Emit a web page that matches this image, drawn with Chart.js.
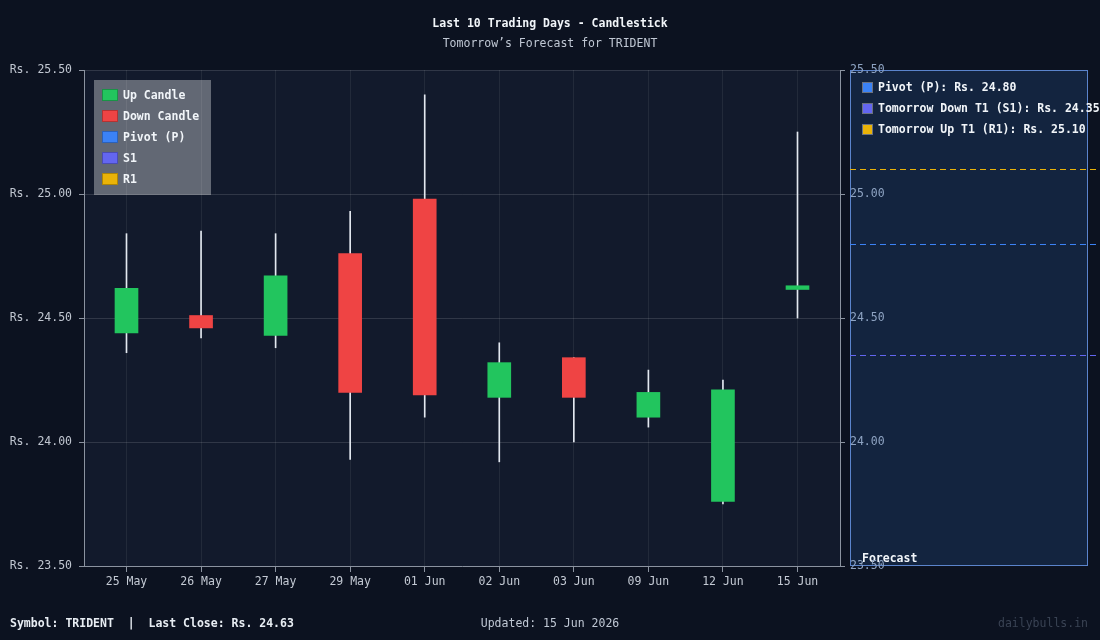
<!DOCTYPE html>
<html>
<head>
<meta charset="utf-8">
<title>TRIDENT - Candlestick</title>
<script src="https://cdn.jsdelivr.net/npm/chart.js@4.4.1/dist/chart.umd.min.js"></script>
<style>
  html, body { margin: 0; padding: 0; background: #0c1220; }
  #wrap { width: 1100px; height: 640px; }
</style>
</head>
<body>
<div id="wrap"><canvas id="candleChart" width="1100" height="640"></canvas></div>
<script>
// last 10 sessions
const dates = ["25 May", "26 May", "27 May", "29 May", "01 Jun", "02 Jun", "03 Jun", "09 Jun", "12 Jun", "15 Jun"];
const opens = [24.44, 24.51, 24.43, 24.76, 24.98, 24.18, 24.34, 24.10, 23.76, 24.615];
const highs = [24.84, 24.85, 24.84, 24.93, 25.40, 24.40, 24.34, 24.29, 24.25, 25.25];
const lows = [24.36, 24.42, 24.38, 23.93, 24.10, 23.92, 24.00, 24.06, 23.75, 24.50];
const closes = [24.62, 24.46, 24.67, 24.20, 24.19, 24.32, 24.18, 24.20, 24.21, 24.63];

const priceTicks = [23.5, 24.0, 24.5, 25.0, 25.5];

// tomorrow's levels
const levelNames = ["Pivot (P)", "Tomorrow Down T1 (S1)", "Tomorrow Up T1 (R1)"];
const levelValues = [24.80, 24.35, 25.10];
const levelColors = ["#3b82f6", "#6366f1", "#eab308"];

const legendNames = ["Up Candle", "Down Candle", "Pivot (P)", "S1", "R1"];
const legendColors = ["#22c55e", "#ef4444", "#3b82f6", "#6366f1", "#eab308"];

const UP = "#22c55e";
const DOWN = "#ef4444";
const FONT = "'DejaVu Sans Mono', 'Liberation Mono', monospace";
const FS = 11.5;

const bodyColors = opens.map((o, i) => (closes[i] >= o ? UP : DOWN));

const setTicks = (scale) => {
  scale.ticks = priceTicks.map((v) => ({ value: v }));
};

const panelPlugin = {
  id: "panels",
  beforeDraw(chart) {
    const { ctx, chartArea, scales } = chart;
    ctx.save();
    ctx.fillStyle = "#0c1220";
    ctx.fillRect(0, 0, chart.width, chart.height);
    ctx.fillStyle = "#121a2c";
    ctx.fillRect(chartArea.left, chartArea.top, chartArea.right - chartArea.left, chartArea.bottom - chartArea.top);

    // forecast panel on the right
    const px = chartArea.right + 10;
    const pw = chart.width - 12 - px;
    ctx.fillStyle = "#13243f";
    ctx.fillRect(px, chartArea.top, pw, chartArea.bottom - chartArea.top);
    ctx.strokeStyle = "#5b84cc";
    ctx.lineWidth = 1;
    ctx.strokeRect(px + 0.5, chartArea.top + 0.5, pw - 1, chartArea.bottom - chartArea.top - 1);

    ctx.setLineDash([6, 4]);
    levelValues.forEach((v, i) => {
      const y = Math.round(scales.y.getPixelForValue(v)) + 0.5;
      ctx.strokeStyle = levelColors[i];
      ctx.beginPath();
      ctx.moveTo(px, y);
      ctx.lineTo(chart.width - 4, y);
      ctx.stroke();
    });
    ctx.setLineDash([]);

    ctx.font = "bold " + FS + "px " + FONT;
    ctx.textBaseline = "middle";
    ctx.fillStyle = "#f1f5f9";
    ctx.fillText("Forecast", px + 12, chartArea.bottom - 7);
    ctx.restore();
  },
  afterDraw(chart) {
    const { ctx, chartArea } = chart;
    ctx.save();
    ctx.font = "bold " + FS + "px " + FONT;
    ctx.textBaseline = "middle";

    // legend box inside the plot
    const lx = chartArea.left + 10;
    const ly = chartArea.top + 10;
    ctx.fillStyle = "rgba(255, 255, 255, 0.34)";
    ctx.fillRect(lx, ly, 117, 115);
    legendNames.forEach((name, i) => {
      const cy = ly + 15 + i * 21;
      ctx.fillStyle = legendColors[i];
      ctx.fillRect(lx + 8, cy - 6, 16, 12);
      ctx.strokeStyle = "rgba(0, 0, 0, 0.25)";
      ctx.strokeRect(lx + 8.5, cy - 5.5, 15, 11);
      ctx.fillStyle = "#f1f5f9";
      ctx.fillText(name, lx + 29, cy + 1);
    });

    // levels legend in the forecast panel
    const px = chartArea.right + 10;
    levelNames.forEach((name, i) => {
      const cy = chartArea.top + 17 + i * 21;
      ctx.fillStyle = levelColors[i];
      ctx.fillRect(px + 12, cy - 5, 11, 11);
      ctx.strokeStyle = "#6b7280";
      ctx.strokeRect(px + 12.5, cy - 4.5, 10, 10);
      ctx.fillStyle = "#f1f5f9";
      ctx.fillText(name + ": Rs. " + levelValues[i].toFixed(2), px + 28, cy + 1);
    });

    // footer
    const fy = 624;
    ctx.fillStyle = "#e8edf3";
    ctx.textAlign = "left";
    ctx.fillText("Symbol: TRIDENT  |  Last Close: Rs. " + closes[closes.length - 1].toFixed(2), 10, fy);
    ctx.font = FS + "px " + FONT;
    ctx.fillStyle = "#c0c8d4";
    ctx.textAlign = "center";
    ctx.fillText("Updated: 15 Jun 2026", 550, fy);
    ctx.fillStyle = "#3a4354";
    ctx.textAlign = "right";
    ctx.fillText("dailybulls.in", chart.width - 12, fy);
    ctx.restore();
  },
};

const ctx = document.getElementById("candleChart");
new Chart(ctx, {
  type: "bar",
  data: {
    datasets: [
      {
        label: "Body",
        data: dates.map((d, i) => ({ x: i, y: [opens[i], closes[i]] })),
        backgroundColor: bodyColors,
        barThickness: 23,
        grouped: false,
        yAxisID: "y",
      },
      {
        label: "Wick",
        data: dates.map((d, i) => ({ x: i, y: [lows[i], highs[i]] })),
        backgroundColor: "#e2e8f0",
        barThickness: 1,
        grouped: false,
        yAxisID: "y",
      },
    ],
  },
  options: {
    responsive: false,
    animation: false,
    layout: { padding: 0 },
    plugins: {
      legend: { display: false },
      tooltip: { enabled: false },
      title: {
        display: true,
        text: "Last 10 Trading Days - Candlestick",
        color: "#f1f5f9",
        font: { family: FONT, size: FS, weight: "bold" },
        padding: { top: 17, bottom: 5.9 },
      },
      subtitle: {
        display: true,
        text: "Tomorrow\u2019s Forecast for TRIDENT",
        color: "#c0c8d4",
        font: { family: FONT, size: FS, weight: "normal" },
        padding: { top: 0, bottom: 19.5 },
      },
    },
    scales: {
      x: {
        type: "linear",
        offset: false,
        min: -0.57,
        max: 9.57,
        afterFit: (s) => { s.height = 74; },
        grid: { color: "rgba(255, 255, 255, 0.07)", tickColor: "#8b93a0", tickLength: 6, offset: false },
        border: { color: "#8b93a0" },
        ticks: {
          stepSize: 1,
          includeBounds: false,
          autoSkip: false,
          maxRotation: 0,
          padding: 3,
          color: "#c4cad4",
          font: { family: FONT, size: FS },
          callback: (v) => dates[v] || "",
        },
      },
      y: {
        position: "left",
        min: 23.5,
        max: 25.5,
        afterBuildTicks: setTicks,
        afterFit: (s) => { s.width = 84; },
        grid: { color: "rgba(255, 255, 255, 0.13)", tickColor: "#8b93a0", tickLength: 5 },
        border: { color: "#8b93a0" },
        ticks: {
          padding: 7,
          color: "#c0c6d0",
          font: { family: FONT, size: FS },
          callback: (v) => "Rs. " + Number(v).toFixed(2),
        },
      },
      y1: {
        position: "right",
        min: 23.5,
        max: 25.5,
        afterBuildTicks: setTicks,
        afterFit: (s) => { s.width = 260; },
        grid: { drawOnChartArea: false, tickColor: "#8b93a0", tickLength: 5 },
        border: { color: "#8b93a0" },
        ticks: {
          padding: 5,
          color: "#8ea3c2",
          font: { family: FONT, size: FS },
          callback: (v) => Number(v).toFixed(2),
        },
      },
    },
  },
  plugins: [panelPlugin],
});
</script>
</body>
</html>
